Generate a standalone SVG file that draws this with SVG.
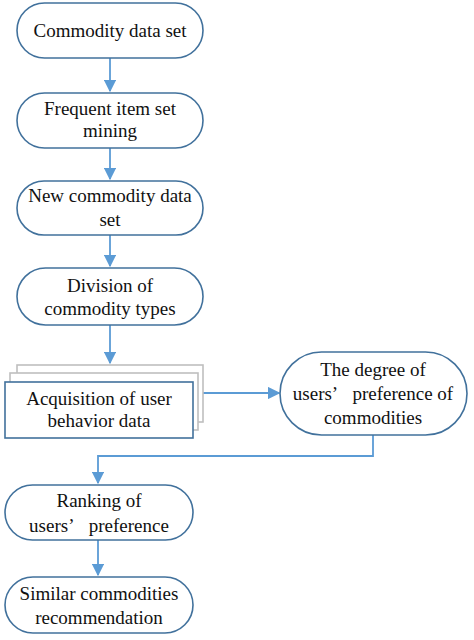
<svg xmlns="http://www.w3.org/2000/svg" width="474" height="640" viewBox="0 0 474 640" font-family="Liberation Serif, Times New Roman, serif">
<style>
.n{fill:#fff;stroke:#41719C;stroke-width:1.6}
.g{fill:#fff;stroke:#BFBFBF;stroke-width:1.6}
.c{fill:none;stroke:#5B9BD5;stroke-width:1.8}
.t{font-family:"Liberation Serif",serif;font-size:19px;fill:#111;text-anchor:middle}
</style>
<defs>
<marker id="a" viewBox="0 0 10 10" refX="9" refY="5" markerWidth="7" markerHeight="7" orient="auto" markerUnits="strokeWidth">
<path d="M0,0 L10,5 L0,10 z" fill="#5B9BD5"/>
</marker>
</defs>
<rect width="474" height="640" fill="#fff"/>
<g id="connectors">
<path class="c" d="M110,58 V91" marker-end="url(#a)"/>
<path class="c" d="M110,148 V179" marker-end="url(#a)"/>
<path class="c" d="M110,235 V266" marker-end="url(#a)"/>
<path class="c" d="M110,325 V363" marker-end="url(#a)"/>
<path class="c" d="M203,393 H279" marker-end="url(#a)"/>
<path class="c" d="M373,435 V456 H98 V483" marker-end="url(#a)"/>
<path class="c" d="M98,540 V575" marker-end="url(#a)"/>
</g>
<g id="n1">
<rect class="n" x="17" y="3" width="186" height="55" rx="27.5"/>
<text class="t" font-family="Liberation Serif" x="110" y="37">Commodity data set</text>
</g>
<g id="n2">
<rect class="n" x="17" y="93" width="186" height="55" rx="27.5"/>
<text class="t" x="110" y="115">Frequent item set</text>
<text class="t" x="110" y="137">mining</text>
</g>
<g id="n3">
<rect class="n" x="17" y="181" width="186" height="54" rx="27"/>
<text class="t" x="110" y="202">New commodity data</text>
<text class="t" x="110" y="226">set</text>
</g>
<g id="n4">
<rect class="n" x="17" y="268" width="186" height="57" rx="28.5"/>
<text class="t" x="110" y="292">Division of</text>
<text class="t" x="110" y="315">commodity types</text>
</g>
<g id="n5">
<rect class="g" x="17" y="365" width="186" height="57"/>
<rect class="g" x="10" y="373" width="188" height="57"/>
<rect class="n" x="5" y="382" width="188" height="56"/>
<text class="t" x="99" y="405">Acquisition of user</text>
<text class="t" x="99" y="427">behavior data</text>
</g>
<g id="n6">
<rect class="n" x="280" y="352" width="187" height="83" rx="41.5"/>
<text class="t" x="373" y="376">The degree of</text>
<text class="t" x="373" y="400">users’&#160;&#160; preference of</text>
<text class="t" x="373" y="424">commodities</text>
</g>
<g id="n7">
<rect class="n" x="5" y="485" width="188" height="55" rx="27.5"/>
<text class="t" x="99" y="507">Ranking of</text>
<text class="t" x="99" y="532">users’&#160;&#160; preference</text>
</g>
<g id="n8">
<rect class="n" x="5" y="577" width="188" height="56" rx="28"/>
<text class="t" x="99" y="600">Similar commodities</text>
<text class="t" x="99" y="624">recommendation</text>
</g>
</svg>
